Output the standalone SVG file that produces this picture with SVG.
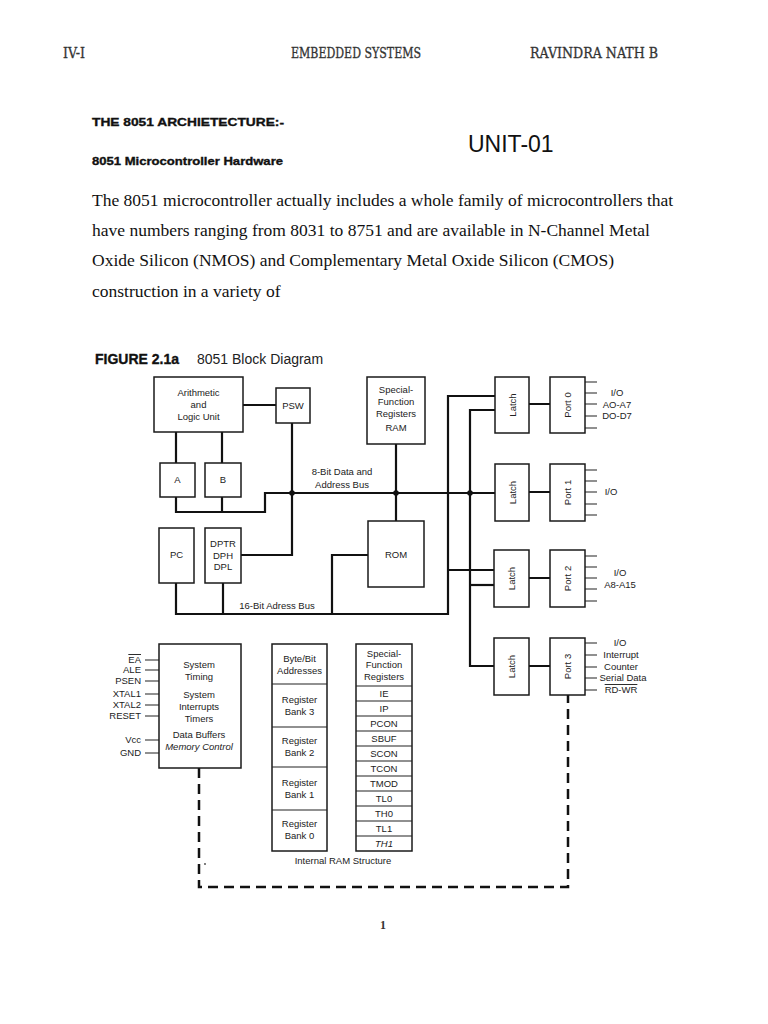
<svg xmlns="http://www.w3.org/2000/svg" width="768" height="1024" viewBox="0 0 768 1024">
<style>
.hdr{font-family:"DejaVu Serif Condensed","Liberation Serif",serif;font-size:14px;fill:#333;stroke:#333;stroke-width:0.3}
.para{font-family:"Liberation Serif","Times New Roman",serif;font-size:17.5px;fill:#111}
.ttl{font-family:"Liberation Sans",Arial,sans-serif;font-weight:bold;fill:#111;stroke:#111;stroke-width:0.35}
.lbl{font-family:"Liberation Sans",Arial,sans-serif;font-size:9.5px;fill:#222;text-anchor:middle}
.pin{font-family:"Liberation Sans",Arial,sans-serif;font-size:9.5px;fill:#222;text-anchor:end}
.box{fill:#fff;stroke:#1a1a1a;stroke-width:1.5}
.ln{fill:none;stroke:#111;stroke-width:2.2}
.thin{fill:none;stroke:#222;stroke-width:1.2}
.dash{fill:none;stroke:#111;stroke-width:2.5;stroke-dasharray:10 6}
</style>
<rect width="768" height="1024" fill="#fff"/>
<g id="header">
<text class="hdr" x="63" y="58">IV-I</text>
<text class="hdr" x="291" y="58" textLength="130" lengthAdjust="spacingAndGlyphs">EMBEDDED SYSTEMS</text>
<text class="hdr" x="530" y="58" textLength="128" lengthAdjust="spacingAndGlyphs">RAVINDRA NATH B</text>
</g>
<g id="titles">
<text class="ttl" x="92" y="126" font-size="11.5" textLength="192" lengthAdjust="spacingAndGlyphs">THE 8051 ARCHIETECTURE:-</text>
<text x="468" y="152" font-family="Liberation Sans,Arial,sans-serif" font-size="23" fill="#111">UNIT-01</text>
<text class="ttl" x="92" y="165" font-size="11" textLength="191" lengthAdjust="spacingAndGlyphs">8051 Microcontroller Hardware</text>
</g>
<g id="paragraph" class="para">
<text x="92" y="206">The 8051 microcontroller actually includes a whole family of microcontrollers that</text>
<text x="92" y="236">have numbers ranging from 8031 to 8751 and are available in N-Channel Metal</text>
<text x="92" y="266">Oxide Silicon (NMOS) and Complementary Metal Oxide Silicon (CMOS)</text>
<text x="92" y="297">construction in a variety of</text>
</g>
<g id="caption">
<text class="ttl" x="95" y="364" font-size="14">FIGURE 2.1a</text>
<text x="197" y="364" font-family="Liberation Sans,Arial,sans-serif" font-size="14" fill="#222">8051 Block Diagram</text>
</g>
<g id="connectors">
<path class="ln" d="M243 405H276"/>
<path class="ln" d="M176 432V463M222 432V463"/>
<path class="ln" d="M176 497V512H265V493H495"/>
<path class="ln" d="M222 497V512"/>
<path class="ln" d="M292 423V555H241"/>
<path class="ln" d="M396 444V521"/>
<path class="ln" d="M368 555H332V614"/>
<path class="ln" d="M176 583V614H448V396H495"/>
<path class="ln" d="M223 583V614"/>
<path class="ln" d="M448 570H494"/>
<path class="ln" d="M495 410H470V666H494"/>
<path class="ln" d="M470 585H494"/>
<path class="ln" d="M529 404H550M529 492H550M529 578H550M529 666H550"/>
<path class="thin" d="M585 382H597M585 393H597M585 404H597M585 416H597M585 428H597"/>
<path class="thin" d="M585 470H597M585 481H597M585 492H597M585 504H597M585 515H597"/>
<path class="thin" d="M585 556H597M585 567H597M585 578H597M585 589H597M585 601H597"/>
<path class="thin" d="M585 643H597M585 655H597M585 667H597M585 678H597M585 690H597"/>
<path class="thin" d="M145 660H159M145 670H159M145 681H159M145 694H159M145 705H159M145 716H159M145 740H159M145 753H159"/>
<path class="dash" d="M199 768V887H568V695"/>
<circle cx="292" cy="493" r="2.8" fill="#111"/>
<circle cx="396" cy="493" r="2.8" fill="#111"/>
<circle cx="470" cy="493" r="2.8" fill="#111"/>
<circle cx="205" cy="864" r="0.9" fill="#444"/>
</g>
<g id="alu"><rect class="box" x="154" y="377" width="89" height="55"/>
<text class="lbl" x="198.5" y="396">Arithmetic</text><text class="lbl" x="198.5" y="408">and</text><text class="lbl" x="198.5" y="420">Logic Unit</text></g>
<g id="psw"><rect class="box" x="276" y="388" width="34" height="35"/><text class="lbl" x="293" y="409">PSW</text></g>
<g id="regA"><rect class="box" x="160" y="463" width="35" height="34"/><text class="lbl" x="177.5" y="483">A</text></g>
<g id="regB"><rect class="box" x="205" y="463" width="36" height="34"/><text class="lbl" x="223" y="483">B</text></g>
<g id="sfr"><rect class="box" x="367" y="377" width="58" height="67"/>
<text class="lbl" x="396" y="393">Special-</text><text class="lbl" x="396" y="405">Function</text><text class="lbl" x="396" y="417">Registers</text><text class="lbl" x="396" y="431">RAM</text></g>
<g id="bus8label"><text class="lbl" x="342" y="475">8-Bit Data and</text><text class="lbl" x="342" y="488">Address Bus</text></g>
<g id="pc"><rect class="box" x="159" y="528" width="35" height="55"/><text class="lbl" x="176.5" y="558">PC</text></g>
<g id="dptr"><rect class="box" x="205" y="528" width="36" height="55"/>
<text class="lbl" x="223" y="547">DPTR</text><text class="lbl" x="223" y="559">DPH</text><text class="lbl" x="223" y="570">DPL</text></g>
<g id="rom"><rect class="box" x="368" y="521" width="56" height="66"/><text class="lbl" x="396" y="558">ROM</text></g>
<g id="bus16label"><text class="lbl" x="277" y="609">16-Bit Adress Bus</text></g>
<g id="latch0"><rect class="box" x="495" y="377" width="34" height="56"/><text class="lbl" transform="translate(512,405) rotate(-90)" y="3.5">Latch</text></g>
<g id="port0"><rect class="box" x="550" y="377" width="35" height="56"/><text class="lbl" transform="translate(567.5,405) rotate(-90)" y="3.5">Port 0</text>
<text class="lbl" x="617" y="396">I/O</text><text class="lbl" x="617" y="408">AO-A7</text><text class="lbl" x="617" y="419">DO-D7</text></g>
<g id="latch1"><rect class="box" x="495" y="464" width="34" height="57"/><text class="lbl" transform="translate(512,492.5) rotate(-90)" y="3.5">Latch</text></g>
<g id="port1"><rect class="box" x="550" y="464" width="35" height="57"/><text class="lbl" transform="translate(567.5,492.5) rotate(-90)" y="3.5">Port 1</text>
<text class="lbl" x="611" y="495">I/O</text></g>
<g id="latch2"><rect class="box" x="494" y="550" width="35" height="57"/><text class="lbl" transform="translate(511.5,578.5) rotate(-90)" y="3.5">Latch</text></g>
<g id="port2"><rect class="box" x="550" y="550" width="35" height="57"/><text class="lbl" transform="translate(567.5,578.5) rotate(-90)" y="3.5">Port 2</text>
<text class="lbl" x="620" y="576">I/O</text><text class="lbl" x="620" y="588">A8-A15</text></g>
<g id="latch3"><rect class="box" x="494" y="638" width="35" height="57"/><text class="lbl" transform="translate(511.5,666.5) rotate(-90)" y="3.5">Latch</text></g>
<g id="port3"><rect class="box" x="550" y="638" width="35" height="57"/><text class="lbl" transform="translate(567.5,666.5) rotate(-90)" y="3.5">Port 3</text>
<text class="lbl" x="620" y="646">I/O</text><text class="lbl" x="621" y="658">Interrupt</text><text class="lbl" x="621" y="670">Counter</text><text class="lbl" x="623" y="681">Serial Data</text><text class="lbl" x="621" y="693" text-decoration="overline">RD-WR</text></g>
<g id="system"><rect class="box" x="159" y="644" width="82" height="124"/>
<text class="lbl" x="199" y="668">System</text><text class="lbl" x="199" y="680">Timing</text>
<text class="lbl" x="199" y="698">System</text><text class="lbl" x="199" y="710">Interrupts</text><text class="lbl" x="199" y="722">Timers</text>
<text class="lbl" x="199" y="738">Data Buffers</text><text class="lbl" x="199" y="750" font-style="italic">Memory Control</text>
<text class="pin" x="141" y="663" text-decoration="overline">EA</text>
<text class="pin" x="141" y="673">ALE</text>
<text class="pin" x="141" y="684">PSEN</text>
<text class="pin" x="141" y="697">XTAL1</text>
<text class="pin" x="141" y="708">XTAL2</text>
<text class="pin" x="141" y="719">RESET</text>
<text class="pin" x="141" y="743">Vcc</text>
<text class="pin" x="141" y="756">GND</text></g>
<g id="ramBanks"><rect class="box" x="272" y="644" width="55" height="207"/>
<path class="thin" d="M272 684H327M272 727H327M272 767H327M272 810H327"/>
<text class="lbl" x="299.5" y="662">Byte/Bit</text><text class="lbl" x="299.5" y="674">Addresses</text>
<text class="lbl" x="299.5" y="703">Register</text><text class="lbl" x="299.5" y="715">Bank 3</text>
<text class="lbl" x="299.5" y="744">Register</text><text class="lbl" x="299.5" y="756">Bank 2</text>
<text class="lbl" x="299.5" y="786">Register</text><text class="lbl" x="299.5" y="798">Bank 1</text>
<text class="lbl" x="299.5" y="827">Register</text><text class="lbl" x="299.5" y="839">Bank 0</text></g>
<g id="sfrList"><rect class="box" x="356" y="644" width="56" height="207"/>
<path class="thin" d="M356 686H412M356 701H412M356 716H412M356 731H412M356 746H412M356 761H412M356 776H412M356 791H412M356 806H412M356 821H412M356 836H412"/>
<text class="lbl" x="384" y="657">Special-</text><text class="lbl" x="384" y="668">Function</text><text class="lbl" x="384" y="680">Registers</text>
<text class="lbl" x="384" y="697">IE</text><text class="lbl" x="384" y="712">IP</text><text class="lbl" x="384" y="727">PCON</text><text class="lbl" x="384" y="742">SBUF</text><text class="lbl" x="384" y="757">SCON</text><text class="lbl" x="384" y="772">TCON</text><text class="lbl" x="384" y="787">TMOD</text><text class="lbl" x="384" y="802">TL0</text><text class="lbl" x="384" y="817">TH0</text><text class="lbl" x="384" y="832">TL1</text><text class="lbl" x="384" y="847" font-style="italic">TH1</text></g>
<g id="ramLabel"><text class="lbl" x="343" y="864">Internal RAM Structure</text></g>
<g id="footer"><text x="383" y="929" font-family="Liberation Serif,serif" font-size="12" font-weight="bold" fill="#333" text-anchor="middle">1</text></g>
</svg>
